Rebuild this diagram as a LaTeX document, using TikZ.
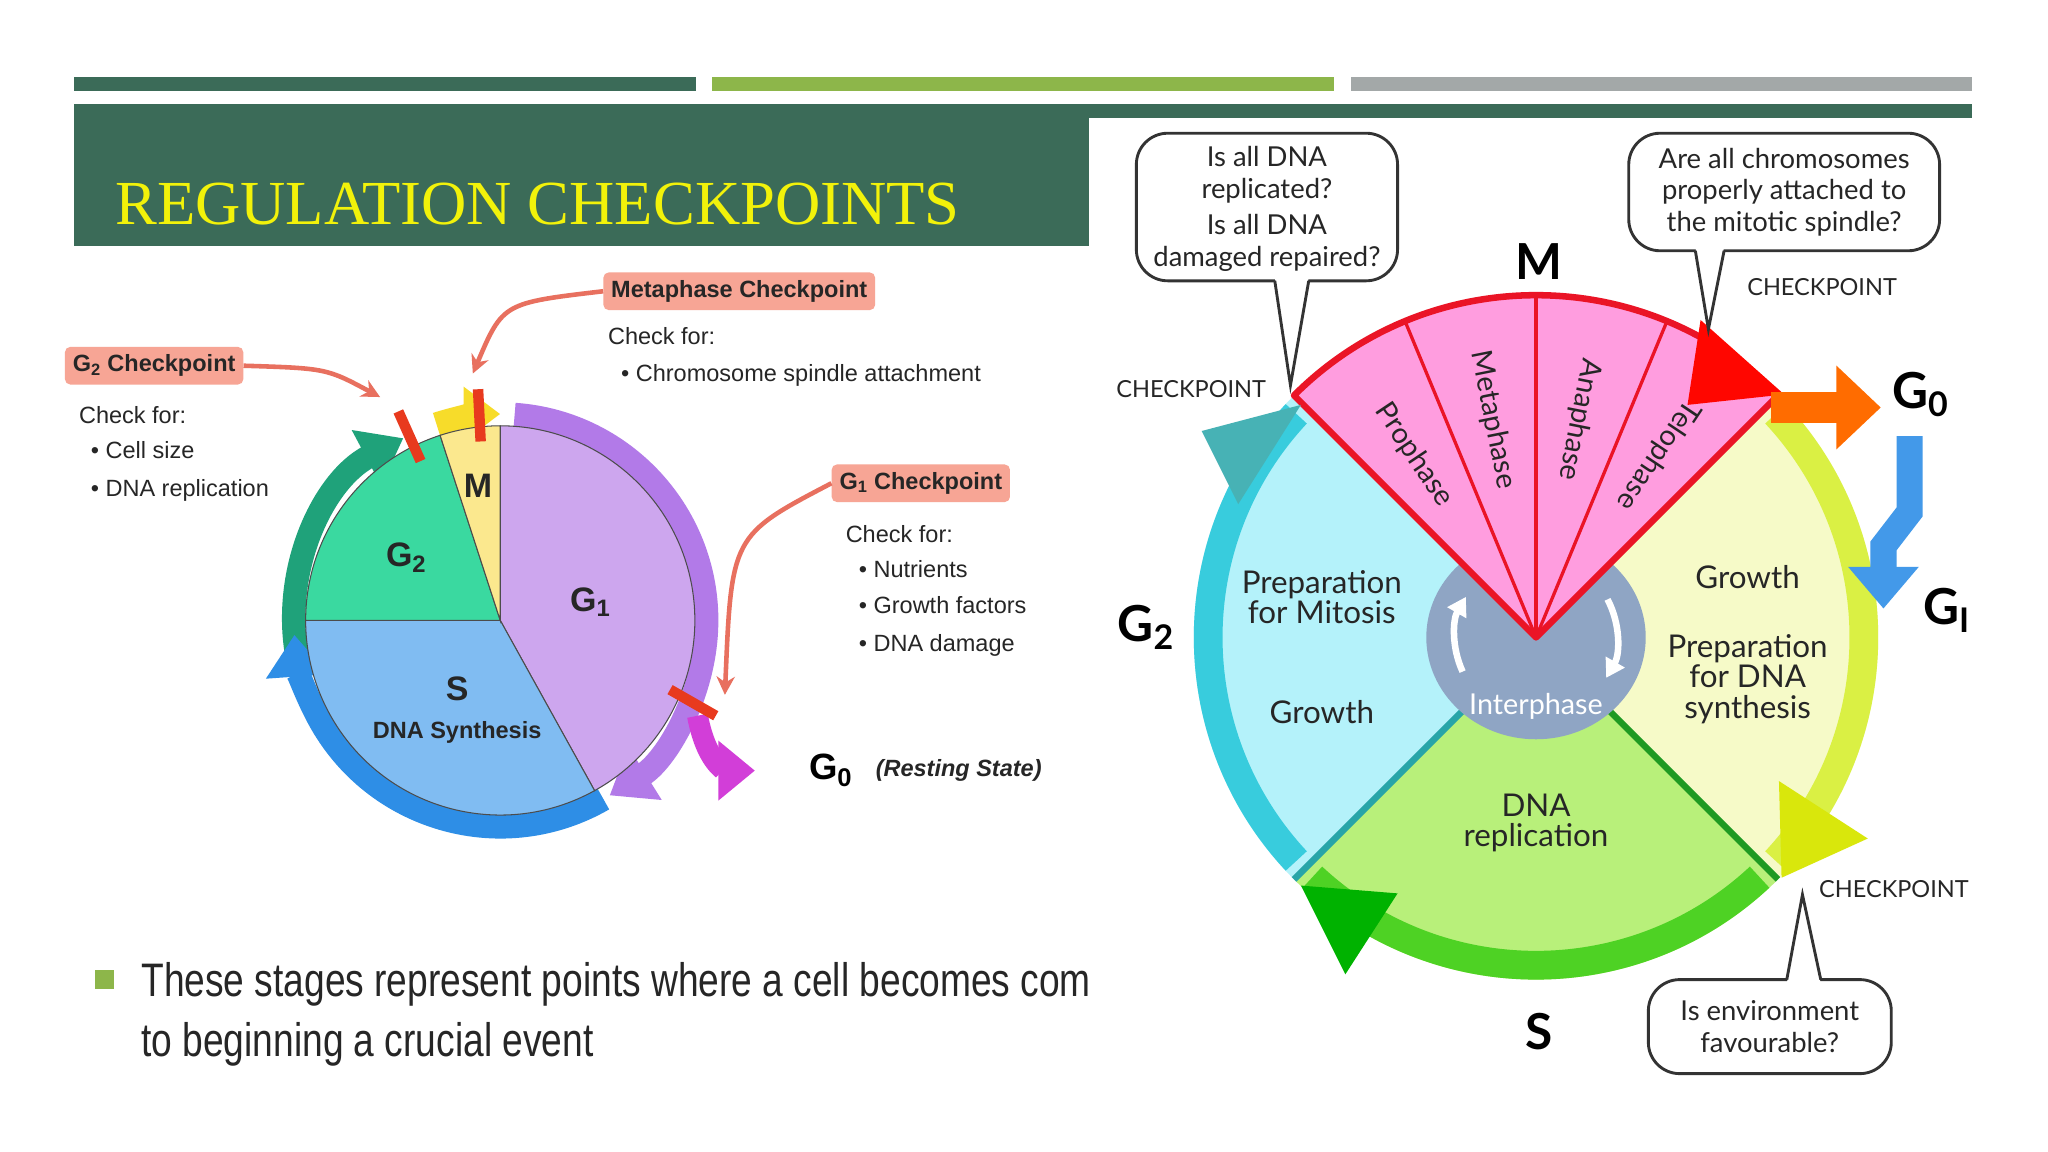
\documentclass[tikz,border=0pt]{standalone}
\usepackage{fontspec}
\setmainfont{Liberation Sans}
\newfontfamily\titlefont{Liberation Serif}
\newfontfamily\gill{Lato}
\usetikzlibrary{arrows.meta,calc}
\definecolor{dkgreen}{HTML}{3B6B58}
\definecolor{ltgreen}{HTML}{8DB64A}
\definecolor{barGray}{HTML}{A3A8A8}
\definecolor{titleyellow}{HTML}{F2F20A}
\definecolor{salmon}{HTML}{F7A595}
\definecolor{connred}{HTML}{E8705F}
\definecolor{barred}{HTML}{E83A1E}
\definecolor{pieG1}{HTML}{CDA6EE}
\definecolor{pieS}{HTML}{80BCF2}
\definecolor{pieG2}{HTML}{3AD9A0}
\definecolor{pieM}{HTML}{FBE88E}
\definecolor{ringP}{HTML}{B27AE8}
\definecolor{ringB}{HTML}{2E8EE6}
\definecolor{ringG}{HTML}{1FA27A}
\definecolor{ringY}{HTML}{F7DC2A}
\definecolor{mag}{HTML}{D23ED8}
\definecolor{cyL}{HTML}{B4F2FA}
\definecolor{cyB}{HTML}{38CCDD}
\definecolor{cyD}{HTML}{27A5A8}
\definecolor{grL}{HTML}{B8F07A}
\definecolor{grB}{HTML}{4ED224}
\definecolor{grD}{HTML}{1F9A22}
\definecolor{ylL}{HTML}{F6FAC8}
\definecolor{ylB}{HTML}{DAF044}
\definecolor{ylD}{HTML}{BEDC20}
\definecolor{pinkM}{HTML}{FF9DDF}
\definecolor{redM}{HTML}{EA1426}
\definecolor{interC}{HTML}{8FA5C4}
\tikzset{
  lbl/.style={fill=salmon, rounded corners=4pt, font=\bfseries\fontsize{18}{20}\selectfont, text=black!85, inner sep=6pt},
  body/.style={anchor=base west, font=\fontsize{18}{20}\selectfont, text=black!85},
  conn/.style={connred, line width=3.5, -{Stealth[length=14,width=14]}},
  ring/.style={line width=18, -{Triangle[width=46,length=32]}},
  bar/.style={barred, line width=8},
  pielab/.style={font=\bfseries\fontsize{26}{28}\selectfont, text=black!85},
  bub/.style={draw=black!80, line width=2.2, fill=white, rounded corners=24},
  btxt/.style={font=\gill\fontsize{21}{24}\selectfont, align=center, text=black!85},
  cp/.style={font=\gill\fontsize{18}{20}\selectfont, text=black!85},
  big/.style={font=\gill\bfseries\fontsize{38}{40}\selectfont, text=black},
  qtxt/.style={font=\gill\fontsize{24}{26}\selectfont, align=center, text=black!85},
  ph/.style={font=\gill\fontsize{22}{24}\selectfont, text=black!85},
}
\begin{document}
\begin{tikzpicture}[x=1pt,y=-1pt]
\useasboundingbox (0,0) rectangle (1568,882);
\fill[white] (0,0) rectangle (1568,882);
% top bars
\fill[dkgreen] (57,59) rectangle (533,70);
\fill[ltgreen] (545,59) rectangle (1021,70);
\fill[barGray] (1034,59) rectangle (1510,70);
\fill[dkgreen] (57,80) rectangle (1510,90);
\fill[dkgreen] (57,80) rectangle (834,188);
\node[anchor=base west, text=titleyellow, font=\titlefont\fontsize{48}{48}\selectfont, inner sep=0] (title) at (88,172) {REGULATION CHECKPOINTS};

% ---------- left diagram ----------
\coordinate (L) at (383,475);
\draw[ring, ringG] ($(L)+(-192:158)$) arc[start angle=-192, end angle=-118, radius=158];
\draw[ring, ringB] ($(L)+(60:158)$) arc[start angle=60, end angle=176, radius=158];
\draw[ring, ringP] ($(L)+(-86:158)$) arc[start angle=-86, end angle=58, radius=158];
\draw[ring, ringY, -{Triangle[width=40,length=28]}] ($(L)+(-108:158)$) arc[start angle=-108, end angle=-90, radius=158];
\draw[black!70, line width=0.8, fill=pieG1] (L) -- ($(L)+(-90:149)$) arc[start angle=-90, end angle=61, radius=149] -- cycle;
\draw[black!70, line width=0.8, fill=pieS] (L) -- ($(L)+(61:149)$) arc[start angle=61, end angle=180, radius=149] -- cycle;
\draw[black!70, line width=0.8, fill=pieG2] (L) -- ($(L)+(180:149)$) arc[start angle=180, end angle=252, radius=149] -- cycle;
\draw[black!70, line width=0.8, fill=pieM] (L) -- ($(L)+(252:149)$) arc[start angle=252, end angle=270, radius=149] -- cycle;
\draw[mag, line width=16, -{Triangle[width=44,length=28]}] (534,548) .. controls (542,590) and (560,590) .. (578,590);
\draw[bar] (305,315) -- (322,353);
\draw[bar] (366,298) -- (368,338);
\draw[bar] (513,528) -- (548,548);
\coordinate (b1) at (291,304);
\coordinate (b2) at (362,286);
\coordinate (b3) at (555,532);
\node[pielab] (pM) at (366,372) {M};
\node[pielab] (pG2) at (311,427) {G$_\mathbf{2}$};
\node[pielab] (pG1) at (452,461) {G$_\mathbf{1}$};
\node[pielab] (pS) at (350,527) {S};
\node[font=\bfseries\fontsize{18}{20}\selectfont, text=black!85] (pDNA) at (350,561) {DNA Synthesis};
\node[font=\bfseries\fontsize{28}{30}\selectfont] (g0l) at (636,590) {G$_\mathbf{0}$};
\node[font=\bfseries\itshape\fontsize{18}{20}\selectfont, text=black!85] (rest) at (734,590) {(Resting State)};

\node[lbl] (g2cp) at (118,280) {G$_\mathbf{2}$ Checkpoint};
\node[lbl] (metcp) at (566,223) {Metaphase Checkpoint};
\node[lbl] (g1cp) at (705,370) {G$_\mathbf{1}$ Checkpoint};
\node[body] (t1) at (57,324) {Check for:};
\node[body] (t2) at (66,351) {\textbullet\ Cell size};
\node[body] (t3) at (66,380) {\textbullet\ DNA replication};
\node[body] (t4) at (462,264) {Check for:};
\node[body] (t5) at (472,292) {\textbullet\ Chromosome spindle attachment};
\node[body] (t6) at (644,415) {Check for:};
\node[body] (t7) at (654,442) {\textbullet\ Nutrients};
\node[body] (t8) at (654,470) {\textbullet\ Growth factors};
\node[body] (t9) at (654,499) {\textbullet\ DNA damage};
\draw[conn] (g2cp.east) .. controls (250,282) .. (b1);
\draw[conn] (metcp.west) .. controls (385,232) .. (b2);
\draw[conn] (g1cp.west) .. controls (560,410) .. (b3);

% bullet
\fill[ltgreen] (73,743) rectangle (87,757);
\node[anchor=base west, inner sep=0, font=\fontsize{36}{38}\selectfont, text=black!85] (bl1) at (108,763) {\scalebox{0.79}[1]{These stages represent points where a cell becomes com}};
\node[anchor=base west, inner sep=0, font=\fontsize{36}{38}\selectfont, text=black!85] (bl2) at (108,809) {\scalebox{0.79}[1]{to beginning a crucial event}};

% ---------- right diagram ----------
\fill[white] (834,90) rectangle (1568,882);
\coordinate (C) at (1176,488);
% G2
\fill[cyL] (C) -- ($(C)+(-225:262)$) arc[start angle=-225, end angle=-135, radius=262] -- cycle;
\draw[cyB, line width=22] ($(C)+(-223:251)$) arc[start angle=-223, end angle=-137, radius=251];
% S
\fill[grL] (C) -- ($(C)+(45:262)$) arc[start angle=45, end angle=135, radius=262] -- cycle;
\draw[grB, line width=22] ($(C)+(47:251)$) arc[start angle=47, end angle=133, radius=251];
% G1
\fill[ylL] (C) -- ($(C)+(-45:262)$) arc[start angle=-45, end angle=45, radius=262] -- cycle;
\draw[ylB, line width=22] ($(C)+(-43:251)$) arc[start angle=-43, end angle=43, radius=251];
\draw[cyD, line width=5] (C) -- ($(C)+(135:262)$);
\draw[grD, line width=5] (C) -- ($(C)+(45:262)$);
\fill[interC] (C) ellipse (84 and 78);
% M
\fill[pinkM] (C) -- ($(C)+(-135:262)$) arc[start angle=-135, end angle=-45, radius=262] -- cycle;
\foreach \a in {-112.5,-90,-67.5} \draw[redM, line width=2.5] (C) -- ($(C)+(\a:262)$);
\draw[redM, line width=5, line join=round] (C) -- ($(C)+(-135:262)$) arc[start angle=-135, end angle=-45, radius=262] -- cycle;
\draw[white, line width=5, -{Triangle[width=16,length=14]}] ($(C)+(-205:62)$) arc[start angle=-205, end angle=-150, radius=62];
\draw[white, line width=5, -{Triangle[width=16,length=14]}] ($(C)+(-28:62)$) arc[start angle=-28, end angle=30, radius=62];
\node[font=\gill\fontsize{22}{24}\selectfont, text=white] (inter) at (1176,541) {Interphase};
\node[ph, rotate=-56.25] (pro) at ($(C)+(-123.75:168)$) {Prophase};
\node[ph, rotate=-78.75] (meta) at ($(C)+(-101.25:170)$) {Metaphase};
\node[ph, rotate=-101.25] (ana) at ($(C)+(-78.75:170)$) {Anaphase};
\node[ph, rotate=-123.75] (telo) at ($(C)+(-56.25:168)$) {Telophase};
% arrowheads
\fill[cyD!85] (920,330) -- (996,310) -- (948,386) -- cycle;
\fill[red!95!orange] (1302,245) -- (1292,310) -- (1366,302) -- cycle;
\fill[yellow!85!green] (1362,598) -- (1364,672) -- (1430,642) -- cycle;
\fill[green!70!black] (996,678) -- (1070,684) -- (1030,746) -- cycle;
% G0 and G1 arrows
\draw[orange!85!red, line width=24, -{Triangle[width=62,length=34]}] (1356,312) -- (1440,312);
\draw[ringB!90!white, line width=20, -{Triangle[width=52,length=32]}] (1462,334) -- (1462,392) -- (1442,418) -- (1442,466);
% texts in quadrants
\node[qtxt] (q1) at (1012,457) {Preparation\\[-3pt]for Mitosis};
\node[qtxt] (q2) at (1012,545) {Growth};
\node[qtxt] (q3) at (1338,442) {Growth};
\node[qtxt] (q4) at (1338,520) {Preparation\\[-3pt]for DNA\\[-3pt]synthesis};
\node[qtxt] (q5) at (1176,630) {DNA\\[-3pt]replication};
\node[big] (lM) at (1178,200) {M};
\node[big] (lG0) at (1470,302) {G\raisebox{-6pt}{\fontsize{26}{26}\selectfont 0}};
\node[big] (lG1) at (1490,467) {G\raisebox{-6pt}{\fontsize{26}{26}\selectfont I}};
\node[big] (lG2) at (877,480) {G\raisebox{-6pt}{\fontsize{26}{26}\selectfont 2}};
\node[big] (lS) at (1178,790) {S};
% bubbles
\draw[bub] (870,102) rectangle (1070,215);
\fill[white] (976,212) -- (988,295) -- (1002,212) -- cycle;
\draw[black!80, line width=2.2] (976,215) -- (988,295) -- (1002,215);
\node[btxt] (bq1) at (970,160) {Is all DNA\\replicated?\\[4pt]Is all DNA\\damaged repaired?};
\draw[bub] (1247,102) rectangle (1485,192);
\fill[white] (1298,189) -- (1308,252) -- (1320,189) -- cycle;
\draw[black!80, line width=2.2] (1298,192) -- (1308,252) -- (1320,192);
\node[btxt] (bq2) at (1366,147) {Are all chromosomes\\properly attached to\\the mitotic spindle?};
\draw[bub] (1262,750) rectangle (1448,822);
\fill[white] (1368,753) -- (1380,685) -- (1394,753) -- cycle;
\draw[black!80, line width=2.2] (1368,750) -- (1380,685) -- (1394,750);
\node[btxt] (bq3) at (1355,786) {Is environment\\favourable?};
\node[cp] (cp1) at (912,298) {CHECKPOINT};
\node[cp] (cp2) at (1395,220) {CHECKPOINT};
\node[cp] (cp3) at (1450,681) {CHECKPOINT};
\end{tikzpicture}
\end{document}
